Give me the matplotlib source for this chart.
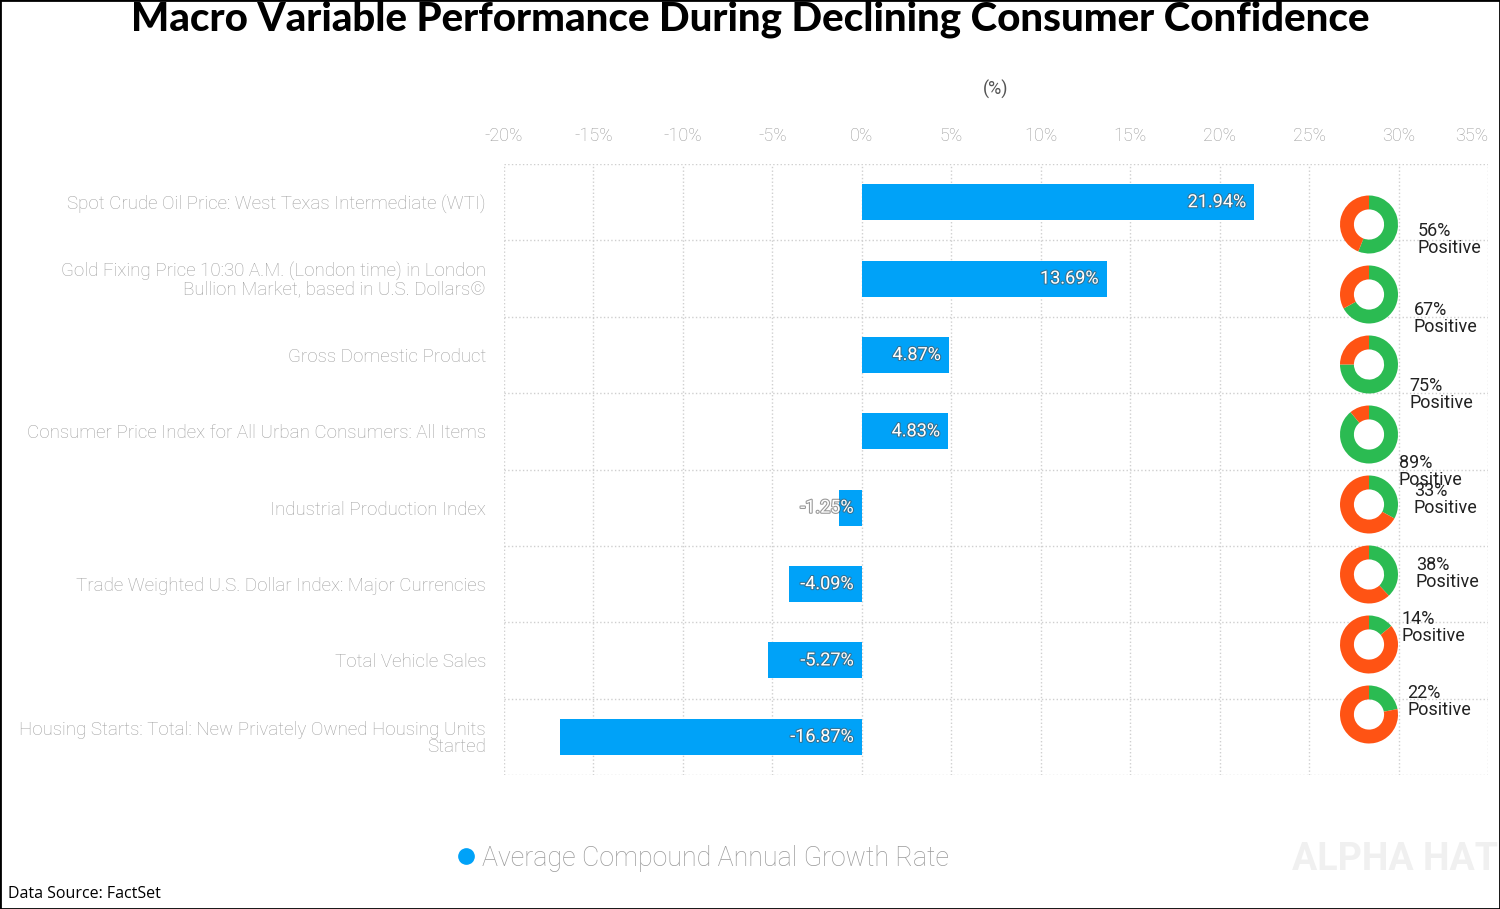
"""Macro variable growth during declining consumer confidence: bars plus donuts."""

import matplotlib

matplotlib.use("Agg")
import matplotlib.pyplot as plt
import matplotlib.patheffects as pe
import numpy as np
from matplotlib.lines import Line2D
from matplotlib.patches import Rectangle

categories = [
    "Spot Crude Oil Price: West Texas Intermediate (WTI)",
    "Gold Fixing Price 10:30 A.M. (London time) in London\nBullion Market, based in U.S. Dollars©",
    "Gross Domestic Product",
    "Consumer Price Index for All Urban Consumers: All Items",
    "Industrial Production Index",
    "Trade Weighted U.S. Dollar Index: Major Currencies",
    "Total Vehicle Sales",
    "Housing Starts: Total: New Privately Owned Housing Units\nStarted",
]
growth = [21.94, 13.69, 4.87, 4.83, -1.25, -4.09, -5.27, -16.87]
pct_positive = [56, 67, 75, 89, 33, 38, 14, 22]
x_ticks = [-20, -15, -10, -5, 0, 5, 10, 15, 20, 25, 30, 35]

BLUE = "#00A2F8"
GREEN = "#2BBB52"
ORANGE = "#FF5314"
GREY = "#9a9a9a"

W, H = 1500, 909
fig = plt.figure(figsize=(W / 100, H / 100), dpi=100)


def px_box(left, top, right, bottom):
    return [left / W, 1 - bottom / H, (right - left) / W, (bottom - top) / H]


# main bar axes
ax = fig.add_axes(px_box(504, 164, 1488, 775))
y = np.arange(len(categories))
ax.barh(y, growth, height=0.47, color=BLUE, zorder=2)
ax.set_xlim(-20, 35)
ax.set_ylim(len(categories) - 0.5, -0.5)
ax.set_xticks(x_ticks)
ax.set_xticklabels([f"{t}%" for t in x_ticks])
ax.xaxis.tick_top()
ax.tick_params(axis="x", length=0, pad=14, labelsize=13, labelcolor=GREY)
for lab in ax.get_xticklabels():
    lab.set_fontfamily("Roboto")
    lab.set_fontweight("light")
ax.get_xticklabels()[-1].set_horizontalalignment("right")
ax.set_yticks(y)
ax.set_yticklabels(categories, fontsize=13.5, color="#a0a0a0", family="Roboto",
                   fontweight="light", linespacing=0.95)
ax.tick_params(axis="y", length=0, pad=13)
ax.set_yticks(np.arange(len(categories) + 1) - 0.5, minor=True)
ax.tick_params(axis="y", which="minor", length=0)
ax.grid(True, axis="x", which="major", linestyle=":", color="#cfcfcf", lw=1, zorder=0)
ax.grid(True, axis="y", which="minor", linestyle=":", color="#cfcfcf", lw=1, zorder=0)
ax.grid(False, axis="y", which="major")
for s in ax.spines.values():
    s.set_visible(False)
ax.set_xlabel("(%)", fontsize=13, color="#555555", family="Roboto", labelpad=23)
ax.xaxis.set_label_position("top")

for yi, v in zip(y, growth):
    t = ax.annotate(f"{v:.2f}%", xy=(max(v, 0), yi), xytext=(-6, 0),
                    textcoords="offset points", ha="right", va="center",
                    color="white", fontsize=13, family="Roboto", zorder=3)
    t.set_path_effects([pe.withStroke(linewidth=1.6, foreground="#555555", alpha=0.6)])

# donut axes
unit = 29.0
cx, cy0, step = 1369, 224.5, 70.0
dax = fig.add_axes(px_box(1335, 190, 1500, 750))
for i, p in enumerate(pct_positive):
    c = (0, -i * step / unit)
    dax.pie([p, 100 - p], colors=[GREEN, ORANGE], startangle=90, counterclock=False,
            radius=1, center=c, wedgeprops=dict(width=0.48, edgecolor="none"))
    theta = np.deg2rad(360 * p / 100 / 2)
    dax.text(c[0] + np.sin(theta) + 20 / unit, c[1] + np.cos(theta) - 9.5 / unit,
             f"{p}%\nPositive", ha="left", va="center", fontsize=13,
             family="Roboto", color="#222222", linespacing=0.95, clip_on=False)
dax.set_aspect("auto")
dax.set_xlim((1335 - cx) / unit, (1500 - cx) / unit)
dax.set_ylim(-(750 - cy0) / unit, (cy0 - 190) / unit)
dax.axis("off")

# title, legend, footer
fig.text(0.5, 1 - 31 / H, "Macro Variable Performance During Declining Consumer Confidence",
         ha="center", va="baseline", fontsize=29, fontweight="black", family="Lato",
         color="black")
handle = Line2D([], [], marker="o", linestyle="none", color=BLUE, markersize=11)
fig.legend(handles=[handle], labels=["Average Compound Annual Growth Rate"],
           loc="center", bbox_to_anchor=(702 / W, 1 - 858 / H), frameon=False,
           labelcolor=GREY, handlelength=0.8, handletextpad=0.2,
           prop={"family": "Roboto", "weight": "light", "size": 19.3})
fig.text(8 / W, 1 - 894 / H, "Data Source: FactSet", ha="left", va="center",
         fontsize=11.5, family="Open Sans", color="black")
fig.text(1292 / W, 1 - 860 / H, "ALPHA HAT", ha="left", va="center", fontsize=27,
         fontweight="bold", family="Roboto", color="#f0f0f0", zorder=0)
fig.patches.append(Rectangle((0, 0), 1, 1, transform=fig.transFigure, fill=False,
                             edgecolor="black", lw=2))

fig.savefig("out.png", dpi=100)
